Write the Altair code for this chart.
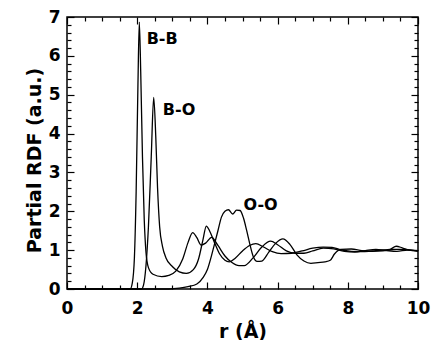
import altair as alt
import pandas as pd

# ---- data ----
bb_r = [0.0, 1.80, 1.86, 1.92, 1.97, 2.02, 2.06, 2.10, 2.15, 2.20, 2.25, 2.32, 2.45, 2.70, 2.90,
        3.10, 3.30, 3.45, 3.58, 3.70, 3.82, 3.95, 4.12, 4.30, 4.50, 4.70, 4.90, 5.05, 5.30, 5.55,
        5.80, 6.00, 6.25, 6.50, 6.75, 7.00, 7.30, 7.60, 7.90, 8.20, 8.50, 8.80, 9.10, 9.40, 9.70, 10.0]
bb_g = [0.0, 0.0, 0.15, 0.8, 2.5, 5.2, 6.87, 5.6, 3.4, 1.8, 0.95, 0.55, 0.38, 0.32, 0.35,
        0.46, 0.78, 1.2, 1.45, 1.32, 1.13, 1.18, 1.33, 1.12, 0.85, 0.68, 0.6, 0.6, 0.8, 1.08,
        1.23, 1.14, 0.98, 0.92, 0.92, 0.98, 1.05, 1.03, 0.97, 0.95, 0.99, 1.02, 0.99, 0.97, 1.0, 0.99]

bo_r = [0.0, 2.12, 2.18, 2.25, 2.32, 2.40, 2.47, 2.53, 2.58, 2.64, 2.72, 2.82, 3.00, 3.20, 3.40,
        3.60, 3.75, 3.87, 3.97, 4.06, 4.20, 4.35, 4.50, 4.62, 4.80, 5.00, 5.20, 5.38, 5.60, 5.85,
        6.10, 6.40, 6.70, 7.00, 7.30, 7.55, 7.80, 8.10, 8.40, 8.70, 9.00, 9.20, 9.38, 9.55, 9.75, 10.0]
bo_g = [0.0, 0.0, 0.1, 0.6, 1.6, 3.4, 4.93, 3.9, 2.6, 1.6, 1.1, 0.8, 0.58, 0.44, 0.4,
        0.5, 0.78, 1.25, 1.62, 1.5, 1.2, 0.9, 0.74, 0.7, 0.8, 0.98, 1.12, 1.17, 1.08, 0.96,
        0.91, 0.92, 0.98, 1.05, 1.08, 1.07, 1.01, 0.97, 0.96, 0.98, 1.0, 1.02, 1.1, 1.06, 1.0, 0.98]

oo_r = [0.0, 2.90, 3.20, 3.45, 3.70, 3.88, 4.00, 4.10, 4.20, 4.30, 4.40, 4.50, 4.60, 4.72, 4.83,
        4.93, 5.03, 5.12, 5.21, 5.30, 5.42, 5.55, 5.75, 5.95, 6.15, 6.35, 6.55, 6.75, 6.95, 7.15,
        7.35, 7.50, 7.62, 7.80, 8.10, 8.40, 8.70, 9.00, 9.30, 9.60, 10.0]
oo_g = [0.0, 0.0, 0.02, 0.06, 0.13, 0.3, 0.5, 0.8, 1.15, 1.5, 1.85, 2.0, 2.04, 1.93, 2.03,
        2.02, 1.82, 1.5, 1.15, 0.85, 0.71, 0.72, 0.95, 1.18, 1.29, 1.15, 0.88, 0.72, 0.66, 0.68,
        0.7, 0.74, 0.9, 1.02, 1.03, 0.99, 0.97, 0.98, 1.02, 1.02, 0.97]

pair_names = ["B-B", "B-O", "O-O"]
label_r = [2.27, 2.73, 5.03]
label_g = [6.44, 4.61, 2.15]

x_major = [0, 2, 4, 6, 8, 10]
x_minor = [0.5 * i for i in range(21) if i % 4 != 0]
y_major = [0, 1, 2, 3, 4, 5, 6, 7]
y_minor = [round(0.2 * i, 1) for i in range(36) if i % 5 != 0]

# ---- tables ----
rows = []
for name, rs, gs in zip(pair_names, [bb_r, bo_r, oo_r], [bb_g, bo_g, oo_g]):
    for r, g in zip(rs, gs):
        rows.append({"pair": name, "r": r, "g": g})
df = pd.DataFrame(rows)
labels_df = pd.DataFrame({"text": pair_names, "r": label_r, "g": label_g})

FONT = "DejaVu Sans"
xs = alt.Scale(domain=[0, 10], nice=False, zero=False)
ys = alt.Scale(domain=[0, 7], nice=False, zero=False)

common = dict(domain=False, grid=False, tickColor="black", tickWidth=1.2,
              labelFont=FONT, labelFontWeight="bold", labelColor="black",
              titleFont=FONT, titleFontWeight="bold", titleColor="black")


def tick_axis(orient, values, size, labels=False, **kw):
    opts = dict(common)
    opts.update(kw)
    return alt.Axis(orient=orient, values=values, offset=-size, tickSize=size,
                    labels=labels, **opts)


def axis_layer(xaxis, yaxis):
    return alt.Chart(df).mark_line(strokeOpacity=0).encode(
        x=alt.X("r:Q", scale=xs, axis=xaxis),
        y=alt.Y("g:Q", scale=ys, axis=yaxis),
        detail="pair:N",
    )


main_axes = axis_layer(
    tick_axis("bottom", x_major, 7, labels=True, labelFontSize=17, labelPadding=11,
              format="d", labelFlush=False, labelOverlap=False,
              title="r (Å)", titleFontSize=19, titlePadding=6),
    tick_axis("left", y_major, 7, labels=True, labelFontSize=17, labelPadding=7,
              format="d", labelFlush=False, labelOverlap=False,
              title="Partial RDF (a.u.)", titleFontSize=19, titlePadding=4, titleY=143),
)
minor_axes = axis_layer(
    tick_axis("bottom", x_minor, 4, title=None),
    tick_axis("left", y_minor, 4, title=None),
)
opp_major = axis_layer(
    tick_axis("top", x_major, 7, title=None),
    tick_axis("right", y_major, 7, title=None),
)
opp_minor = axis_layer(
    tick_axis("top", x_minor, 4, title=None),
    tick_axis("right", y_minor, 4, title=None),
)

lines = alt.Chart(df).mark_line(interpolate="monotone", color="black", strokeWidth=1.3).encode(
    x=alt.X("r:Q", scale=xs, axis=None),
    y=alt.Y("g:Q", scale=ys, axis=None),
    detail="pair:N",
)

texts = alt.Chart(labels_df).mark_text(
    align="left", baseline="middle", font=FONT, fontSize=16, fontWeight="bold", color="black"
).encode(
    x=alt.X("r:Q", scale=xs, axis=None),
    y=alt.Y("g:Q", scale=ys, axis=None),
    text="text:N",
)

chart = alt.layer(main_axes, minor_axes, opp_major, opp_minor, lines, texts).resolve_axis(
    x="independent", y="independent"
).properties(
    width=351,
    height=272,
    autosize=alt.AutoSizeParams(type="none"),
    padding={"left": 59, "top": 9, "right": 13, "bottom": 51},
    background="white",
).configure_view(stroke="black", strokeWidth=1.5)

chart.save("out.html", embed_options={"renderer": "svg", "actions": False})
